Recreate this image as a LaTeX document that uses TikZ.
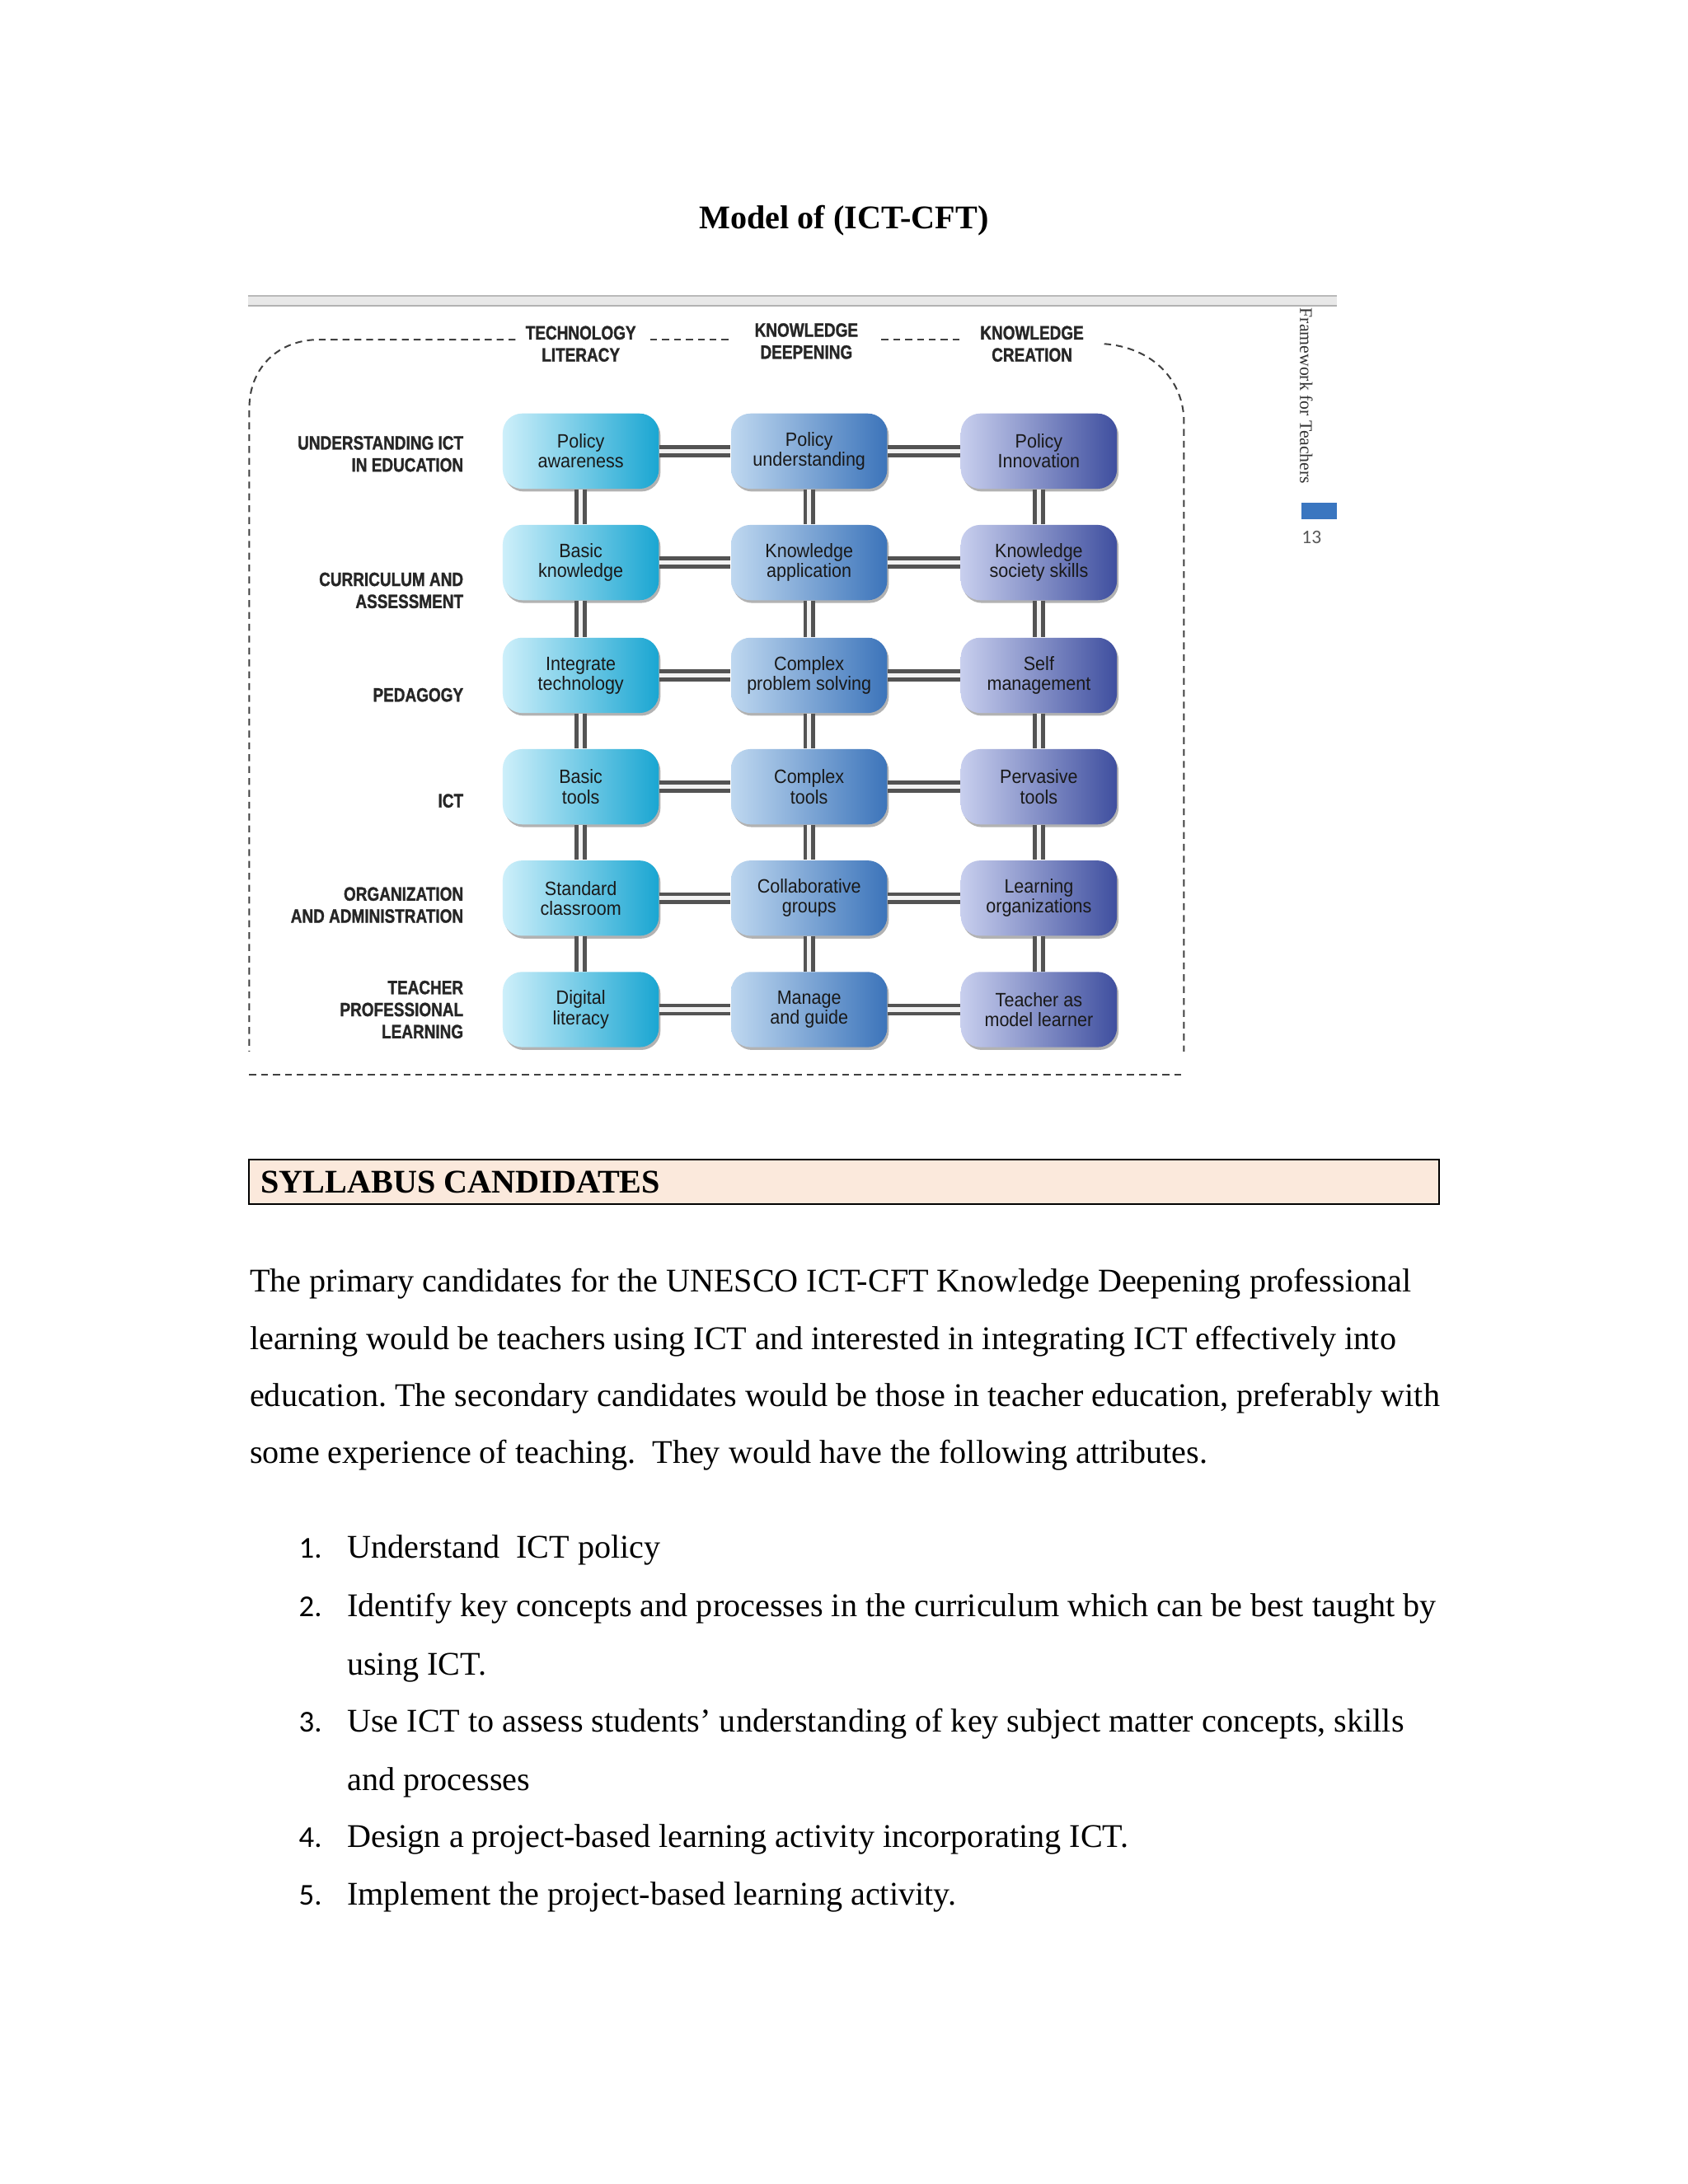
\documentclass[tikz,border=0pt]{standalone}
\usepackage{fontspec}
\setmainfont{Liberation Serif}
\newfontfamily\condfont[FakeStretch=0.81, FakeBold=1.2]{Liberation Sans Bold}
\newfontfamily\boxfont[FakeStretch=0.92]{Liberation Sans}
\newfontfamily\numfont{Carlito}
\usetikzlibrary{shadows}
\definecolor{c1l}{HTML}{CDEFFA}
\definecolor{c1r}{HTML}{1AA6D2}
\definecolor{c2l}{HTML}{BFD8F0}
\definecolor{c2r}{HTML}{3C74BA}
\definecolor{c3l}{HTML}{C8CFEE}
\definecolor{c3r}{HTML}{3F4F9F}
\definecolor{peach}{HTML}{FBE9DC}
\definecolor{pageblue}{HTML}{3A76C0}
\tikzset{
  cell/.style={rounded corners=7pt, minimum width=56.6pt, minimum height=27.3pt, inner sep=1pt,
    align=center, font=\boxfont\fontsize{7}{7.2}\selectfont, text=black!90,
    drop shadow={shadow xshift=0.6pt, shadow yshift=-1pt, opacity=0.3, fill=black}},
  cellA/.style={cell, left color=c1l, right color=c1r},
  cellB/.style={cell, left color=c2l, right color=c2r},
  cellC/.style={cell, left color=c3l, right color=c3r},
  tube/.style={draw=gray!65!black, double=white!90!gray, double distance=1.6pt, line width=1.35pt},
  rowlab/.style={anchor=east, align=right, inner sep=0pt, font=\condfont\fontsize{7}{8}\selectfont, text=black!85},
  colhead/.style={align=center, inner sep=0pt, font=\condfont\fontsize{7}{8}\selectfont, text=black!85},
  frameline/.style={dash pattern=on 2.5pt off 1.8pt, line width=0.6pt, draw=black!75},
  body/.style={anchor=base west, inner sep=0pt, font=\fontsize{12}{14}\selectfont},
  num/.style={anchor=base west, inner sep=0pt, font=\numfont\fontsize{11}{13}\selectfont},
}
\frenchspacing
\begin{document}
\begin{tikzpicture}[x=1pt, y=-1pt]
\useasboundingbox (0,0) rectangle (612,792);
\fill[white] (0,0) rectangle (612,792);

% title
\node[anchor=base, inner sep=0pt, font=\bfseries\fontsize{12}{14}\selectfont] (title) at (306,83) {Model of (ICT-CFT)};

% grey bar
\fill[gray!18] (89.9,107.3) rectangle (484.8,110.8);
\draw[gray!55, line width=0.5pt] (89.9,107.3) -- (484.8,107.3);
\draw[gray!60, line width=0.7pt] (89.9,110.8) -- (484.8,110.8);

% dashed frame
\draw[frameline] (186.9,123.2) -- (114,123.2) .. controls (100,124) and (90.4,134) .. (90.4,148) -- (90.4,381.3);
\draw[frameline] (235.8,123.2) -- (265.1,123.2);
\draw[frameline] (319.6,123.2) -- (348.4,123.2);
\draw[frameline] (400.4,124.7) .. controls (418,126) and (429.3,138) .. (429.3,153) -- (429.3,381.3);
\draw[frameline] (90.4,389.8) -- (429.3,389.8);

% column headers
\node[colhead] (h1) at (210.6,124.7) {TECHNOLOGY\\LITERACY};
\node[colhead] (h2) at (292.4,123.7) {KNOWLEDGE\\DEEPENING};
\node[colhead] (h3) at (374.2,124.7) {KNOWLEDGE\\CREATION};

% row labels
\node[rowlab] (r1) at (168.2,164.6) {UNDERSTANDING ICT\\IN EDUCATION};
\node[rowlab] (r2) at (168.2,214.1) {CURRICULUM AND\\ASSESSMENT};
\node[rowlab] (r3) at (168.2,252.0) {PEDAGOGY};
\node[rowlab] (r4) at (168.2,290.4) {ICT};
\node[rowlab] (r5) at (168.2,328.2) {ORGANIZATION\\AND ADMINISTRATION};
\node[rowlab] (r6) at (168.2,366.1) {TEACHER\\PROFESSIONAL\\LEARNING};

% cells
\node[cellA] (a1) at (210.6,163.6) {Policy\\awareness};
\node[cellB] (b1) at (293.4,163.6) {Policy\\understanding};
\node[cellC] (c1) at (376.7,163.6) {Policy\\Innovation};
\node[cellA] (a2) at (210.6,204.0) {Basic\\knowledge};
\node[cellB] (b2) at (293.4,204.0) {Knowledge\\application};
\node[cellC] (c2) at (376.7,204.0) {Knowledge\\society skills};
\node[cellA] (a3) at (210.6,244.9) {Integrate\\technology};
\node[cellB] (b3) at (293.4,244.9) {Complex\\problem solving};
\node[cellC] (c3) at (376.7,244.9) {Self\\management};
\node[cellA] (a4) at (210.6,285.3) {Basic\\tools};
\node[cellB] (b4) at (293.4,285.3) {Complex\\tools};
\node[cellC] (c4) at (376.7,285.3) {Pervasive\\tools};
\node[cellA] (a5) at (210.6,325.7) {Standard\\classroom};
\node[cellB] (b5) at (293.4,325.7) {Collaborative\\groups};
\node[cellC] (c5) at (376.7,325.7) {Learning\\organizations};
\node[cellA] (a6) at (210.6,366.1) {Digital\\literacy};
\node[cellB] (b6) at (293.4,366.1) {Manage\\and guide};
\node[cellC] (c6) at (376.7,366.1) {Teacher as\\model learner};

% connectors
\foreach \r in {1,...,6}{
  \draw[tube] (a\r) -- (b\r);
  \draw[tube] (b\r) -- (c\r);
}
\foreach \r [evaluate=\r as \s using int(\r+1)] in {1,...,5}{
  \draw[tube] (a\r) -- (a\s);
  \draw[tube] (b\r) -- (b\s);
  \draw[tube] (c\r) -- (c\s);
}

% side page marker
\node[rotate=-90, anchor=west, inner sep=0pt, font=\fontsize{6.5}{7}\selectfont, text=black!80] (fw) at (473.7,111.5) {Framework for Teachers};
\node[fill=pageblue, minimum width=12.7pt, minimum height=6.1pt, inner sep=0pt] (pg) at (478.4,185.3) {};
\node[inner sep=0pt, font=\numfont\fontsize{7}{8}\selectfont, text=black!65] (pn) at (475.6,195) {13};

% section header
\node[draw=black, line width=0.6pt, fill=peach, minimum width=431.7pt, minimum height=16.2pt, inner sep=0pt, anchor=north west] (sec) at (89.9,420.1) {};
\node[anchor=base west, inner sep=0pt, font=\bfseries\fontsize{12}{14}\selectfont] (sect) at (94.4,432.6) {SYLLABUS CANDIDATES};

% paragraph
\node[body] (p1) at (90.4,468.6) {The primary candidates for the UNESCO ICT-CFT Knowledge Deepening professional};
\node[body] (p2) at (90.4,489.3) {learning would be teachers using ICT and interested in integrating ICT effectively into};
\node[body] (p3) at (90.4,510.0) {education. The secondary candidates would be those in teacher education, preferably with};
\node[body] (p4) at (90.4,530.7) {some experience of teaching.\ \ They would have the following attributes.};

% list
\node[num] (n1) at (108.2,565.0) {1.};
\node[body] (l1) at (125.7,565.0) {Understand\ \ ICT policy};
\node[num] (n2) at (108.2,586.2) {2.};
\node[body] (l2) at (125.7,586.2) {Identify key concepts and processes in the curriculum which can be best taught by};
\node[body] (l2b) at (125.7,607.4) {using ICT.};
\node[num] (n3) at (108.2,628.1) {3.};
\node[body] (l3) at (125.7,628.1) {Use ICT to assess students’ understanding of key subject matter concepts, skills};
\node[body] (l3b) at (125.7,649.3) {and processes};
\node[num] (n4) at (108.2,670.0) {4.};
\node[body] (l4) at (125.7,670.0) {Design a project-based learning activity incorporating ICT.};
\node[num] (n5) at (108.2,690.8) {5.};
\node[body] (l5) at (125.7,690.8) {Implement the project-based learning activity.};
\end{tikzpicture}
\end{document}
